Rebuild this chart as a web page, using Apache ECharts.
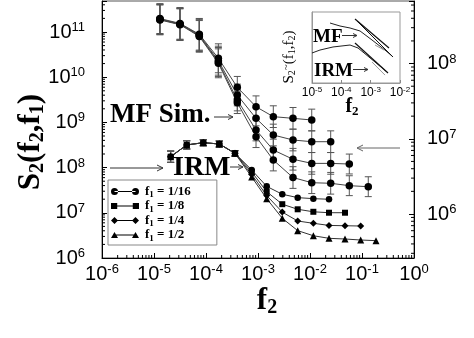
<!DOCTYPE html>
<html><head><meta charset="utf-8">
<script src="https://cdn.jsdelivr.net/npm/echarts@6/dist/echarts.min.js"></script>
<style>html,body{margin:0;padding:0;background:#fff}#c{width:474px;height:338px}</style>
</head><body><div id="c"></div><script>
// ---------- data ----------
const legendNames = ['1/16', '1/8', '1/4', '1/2'];
const xTickExps = [-6, -5, -4, -3, -2, -1, 0];

// MF simulation (left axis)
const mfF2 = [1.30e-5, 3.16e-5, 7.43e-5, 1.73e-4, 4.0e-4, 9.16e-4, 1.97e-3, 4.71e-3, 1.08e-2, 2.50e-2, 5.70e-2, 0.132];
const mf_1_16 = [1.98e11, 1.55e11, 8.9e10, 2.62e10, 5.98e9, 2.22e9, 1.34e9, 1.23e9, 1.13e9];
const mf_1_8  = [1.93e11, 1.51e11, 8.6e10, 2.32e10, 4.04e9, 1.23e9, 5.26e8, 4.08e8, 3.74e8, 3.74e8];
const mf_1_4  = [1.89e11, 1.48e11, 8.3e10, 2.17e10, 3.13e9, 6.79e8, 2.45e8, 1.53e8, 1.24e8, 1.24e8, 1.20e8];
const mf_1_2  = [1.85e11, 1.45e11, 8.0e10, 2.03e10, 2.73e9, 4.83e8, 1.47e8, 6.03e7, 4.63e7, 4.50e7, 3.98e7, 3.78e7];
const mfErrDec = [0.33, 0.35, 0.35, 0.32, 0.24, 0.24, 0.24, 0.24, 0.24, 0.24, 0.22, 0.22];

// IRM (right axis)
const irmF2 = [2.09e-5, 4.26e-5, 8.87e-5, 1.80e-4, 3.61e-4, 7.57e-4, 1.47e-3, 2.93e-3, 5.80e-3, 1.16e-2, 2.32e-2, 4.71e-2, 9.44e-2, 0.186];
const irm_1_16 = [5.78e6, 8.28e6, 8.87e6, 8.53e6, 6.41e6, 3.85e6, 2.33e6, 1.83e6, 1.65e6, 1.60e6, 1.57e6];
const irm_1_8  = [5.78e6, 8.28e6, 8.87e6, 8.53e6, 6.41e6, 3.62e6, 1.98e6, 1.35e6, 1.155e6, 1.07e6, 1.04e6, 1.04e6];
const irm_1_4  = [5.78e6, 8.28e6, 8.87e6, 8.53e6, 6.41e6, 3.35e6, 1.76e6, 1.06e6, 8.07e5, 7.52e5, 7.05e5, 6.98e5, 6.92e5];
const irm_1_2  = [5.78e6, 8.28e6, 8.87e6, 8.53e6, 6.41e6, 3.10e6, 1.60e6, 8.77e5, 6.01e5, 5.14e5, 4.75e5, 4.65e5, 4.51e5, 4.42e5];
const irmErrDec = [0.075, 0.055, 0.04, 0.04, 0.035, 0, 0, 0, 0, 0, 0, 0, 0, 0];

// inset curves (schematic)
const insetMfCurve  = [[4.11e-5, 2399], [9.0e-5, 1626], [1.98e-4, 1256], [4.34e-4, 851], [1.11e-3, 265], [3.08e-3, 72], [5.35e-3, 33]];
const insetMfLine1  = [[2.92e-4, 4036], [4.22e-3, 94]];
const insetMfLine2  = [[3.42e-4, 3112], [5.78e-3, 29]];
const insetMfGray   = [[1.41e-3, 138], [2.85e-3, 72]];
const insetIrmCurve = [[1e-5, 49], [1.87e-5, 72], [5.2e-5, 107], [1.98e-4, 138], [3.70e-4, 94], [9.5e-4, 26], [3.61e-3, 4.2]];
const insetIrmLine  = [[2.92e-4, 179], [3.90e-3, 3.66]];
const insetIrmGray  = [[1.11e-3, 15.2], [3.08e-3, 2.8]];

// ---------- helpers ----------
const SERIF = '"Liberation Serif", "DejaVu Serif", serif';
const SANS = '"Liberation Sans", Arial, sans-serif';
const LEFT_MIN = 1e6, LEFT_MAX = 4.85e11;
const RIGHT_MIN = 2.60e5, RIGHT_MAX = 6.79e8;
const X_MIN = 1e-6, X_MAX = 1;

function pairs(xs, ys) { return ys.map((y, i) => [xs[i], y]); }
function errData(xs, ys, errs) {
  const out = [];
  ys.forEach((y, i) => { if (errs[i] > 0) out.push([xs[i], y / Math.pow(10, errs[i]), y * Math.pow(10, errs[i])]); });
  return out;
}
function powFmt(v) {
  const e = Math.log10(v), r = Math.round(e);
  if (Math.abs(e - r) > 1e-6) return '';
  return '{b|10}{s|' + (r < 0 ? '-' + (-r) : r) + '}';
}
function labelRich(b, s, lh) {
  return {
    b: { fontFamily: SANS, fontSize: b, lineHeight: lh, color: '#000' },
    s: { fontFamily: SANS, fontSize: s, lineHeight: Math.round(s * 0.95), verticalAlign: 'top', color: '#000' }
  };
}
function errRender(params, api) {
  const x = api.value(0), lo = api.value(1), hi = api.value(2);
  const p1 = api.coord([x, lo]), p2 = api.coord([x, hi]);
  const st = { stroke: '#555', lineWidth: 1 };
  const c = 3.5;
  return { type: 'group', children: [
    { type: 'line', shape: { x1: p1[0], y1: p1[1], x2: p2[0], y2: p2[1] }, style: st },
    { type: 'line', shape: { x1: p1[0] - c, y1: p1[1], x2: p1[0] + c, y2: p1[1] }, style: st },
    { type: 'line', shape: { x1: p2[0] - c, y1: p2[1], x2: p2[0] + c, y2: p2[1] }, style: st }
  ] };
}
function minorVals(e0, e1, lo, hi) {
  const a = [];
  for (let d = e0; d <= e1; d++) for (let k = 2; k <= 9; k++) { const v = k * Math.pow(10, d); if (v > lo && v < hi) a.push(v); }
  return a;
}
function tickSeries(vals, axis, yIdx, dx, dy) {
  return {
    type: 'custom', silent: true, z: 3, xAxisIndex: 0, yAxisIndex: yIdx,
    data: vals.map(v => axis === 'x' ? [v, LEFT_MIN] : [dx > 0 ? X_MIN : X_MAX, v]),
    encode: { x: 0, y: 1 },
    renderItem: (params, api) => {
      const p = api.coord([api.value(0), api.value(1)]);
      return { type: 'line', shape: { x1: p[0], y1: p[1], x2: p[0] + dx, y2: p[1] + dy }, style: { stroke: '#000', lineWidth: 1 } };
    }
  };
}
function arrow(x1, y1, x2, y2, color, head) {
  const dx = x2 - x1, dy = y2 - y1, L = Math.hypot(dx, dy), ux = dx / L, uy = dy / L;
  const hx = x2 - ux * head, hy = y2 - uy * head;
  const px = -uy * head * 0.5, py = ux * head * 0.5;
  return { type: 'group', z: 10, children: [
    { type: 'line', shape: { x1, y1, x2, y2 }, style: { stroke: color, lineWidth: 1 } },
    { type: 'polyline', shape: { points: [[hx + px, hy + py], [x2, y2], [hx - px, hy - py]] }, style: { stroke: color, lineWidth: 1, fill: null } }
  ] };
}

const icons = {
  '1/16': 'path://M0,4a3.5,3.5 0 1,0 7,0a3.5,3.5 0 1,0 -7,0zM21,4a3.5,3.5 0 1,0 7,0a3.5,3.5 0 1,0 -7,0zM3.5,3.6h21v0.8h-21z',
  '1/8': 'path://M0.5,1h6v6h-6zM21.5,1h6v6h-6zM3.5,3.6h21v0.8h-21z',
  '1/4': 'path://M0,4L3.5,0.5L7,4L3.5,7.5zM21,4L24.5,0.5L28,4L24.5,7.5zM3.5,3.6h21v0.8h-21z',
  '1/2': 'path://M0,7L3.5,1L7,7zM21,7L24.5,1L28,7zM3.5,3.6h21v0.8h-21z'
};
const irmSym = { '1/16': ['circle', 6.5], '1/8': ['rect', 6], '1/4': ['diamond', 7], '1/2': ['triangle', 7] };

const mfSets = [mf_1_16, mf_1_8, mf_1_4, mf_1_2];
const irmSets = [irm_1_16, irm_1_8, irm_1_4, irm_1_2];

const series = [];
mfSets.forEach((ys, i) => {
  series.push({ type: 'custom', name: 'mfErr' + i, z: 1, silent: true, xAxisIndex: 0, yAxisIndex: 0,
    data: errData(mfF2, ys, mfErrDec), encode: { x: 0, y: [1, 2] }, renderItem: errRender });
  series.push({ type: 'line', name: 'MF ' + legendNames[i], xAxisIndex: 0, yAxisIndex: 0, z: 2,
    data: pairs(mfF2, ys), symbol: 'circle', symbolSize: 7.5,
    lineStyle: { color: '#444', width: 1 }, itemStyle: { color: '#000' } });
});
[3, 2, 0, 1].forEach(i => {
  const ys = irmSets[i], nm = legendNames[i];
  series.push({ type: 'custom', name: 'irmErr' + i, z: 1, silent: true, xAxisIndex: 0, yAxisIndex: 1,
    data: errData(irmF2, ys, irmErrDec), encode: { x: 0, y: [1, 2] }, renderItem: errRender });
  series.push({ type: 'line', name: nm, xAxisIndex: 0, yAxisIndex: 1, z: 2,
    data: pairs(irmF2, ys), symbol: irmSym[nm][0], symbolSize: irmSym[nm][1],
    lineStyle: { color: '#333', width: 1 }, itemStyle: { color: '#000' } });
});
// minor ticks (log-spaced)
series.push(tickSeries(minorVals(-6, -1, X_MIN, X_MAX), 'x', 0, 0, -3));
series.push(tickSeries(minorVals(6, 11, LEFT_MIN, LEFT_MAX), 'y', 0, 3, 0));
series.push(tickSeries(minorVals(5, 8, RIGHT_MIN, RIGHT_MAX), 'y', 1, -3, 0));
// inset
const insetStyle = (c, w) => ({ type: 'line', xAxisIndex: 1, yAxisIndex: 2, symbol: 'none', silent: true,
  lineStyle: { color: c, width: w } });
[[insetMfCurve, '#222', 1], [insetMfLine1, '#111', 1.2], [insetMfLine2, '#111', 1], [insetMfGray, '#999', 1],
 [insetIrmCurve, '#222', 1], [insetIrmLine, '#111', 1.2], [insetIrmGray, '#999', 1]].forEach(([d, c, w]) => {
  series.push(Object.assign(insetStyle(c, w), { data: d }));
});

const legendRich = {
  b: { fontFamily: SERIF, fontWeight: 'bold', fontSize: 13, lineHeight: 16, color: '#000' },
  s: { fontFamily: SERIF, fontWeight: 'bold', fontSize: 9, lineHeight: 10, verticalAlign: 'bottom', color: '#000' }
};

const option = {
  animation: false,
  backgroundColor: '#fff',
  grid: [
    { left: 102, right: 60, top: 1, bottom: 80, show: true, borderColor: '#555', borderWidth: 1 },
    { left: 312, top: 12, width: 88, height: 71, show: true, borderColor: '#999', borderWidth: 1, backgroundColor: '#fff' }
  ],
  xAxis: [
    { type: 'log', gridIndex: 0, min: X_MIN, max: X_MAX, logBase: 10,
      axisLine: { show: true, lineStyle: { color: '#000', width: 1 } },
      axisTick: { show: true, inside: true, length: 5, lineStyle: { color: '#000' } },
      minorTick: { show: false }, splitLine: { show: false },
      axisLabel: { margin: 5, formatter: powFmt, rich: labelRich(20, 13, 22) } },
    { type: 'log', gridIndex: 1, min: 1e-5, max: 1e-2, logBase: 10,
      axisLine: { show: true, lineStyle: { color: '#999', width: 1 } },
      axisTick: { show: true, inside: true, length: 3, lineStyle: { color: '#888' } },
      splitLine: { show: false },
      axisLabel: { margin: 3, formatter: powFmt, rich: labelRich(12, 8, 13) } }
  ],
  yAxis: [
    { type: 'log', gridIndex: 0, position: 'left', min: LEFT_MIN, max: LEFT_MAX, logBase: 10,
      axisLine: { show: true, lineStyle: { color: '#000', width: 1 } },
      axisTick: { show: true, inside: true, length: 5, lineStyle: { color: '#000' } },
      splitLine: { show: false },
      axisLabel: { margin: 17, formatter: powFmt, rich: labelRich(20, 13, 22) } },
    { type: 'log', gridIndex: 0, position: 'right', min: RIGHT_MIN, max: RIGHT_MAX, logBase: 10,
      axisLine: { show: true, lineStyle: { color: '#000', width: 1 } },
      axisTick: { show: true, inside: true, length: 5, lineStyle: { color: '#000' } },
      splitLine: { show: false },
      axisLabel: { margin: 13, formatter: powFmt, rich: labelRich(20, 13, 22) } },
    { type: 'log', gridIndex: 1, min: 1, max: 1e4, logBase: 10,
      axisLine: { show: true, lineStyle: { color: '#999' } }, axisTick: { show: false },
      axisLabel: { show: false }, splitLine: { show: false } }
  ],
  legend: {
    orient: 'vertical', left: 108, top: 180, selectedMode: false,
    itemWidth: 28, itemHeight: 8, itemGap: 0, padding: [5, 26, 2, 3],
    borderColor: '#888', borderWidth: 1, backgroundColor: '#fff',
    data: legendNames.map(n => ({ name: n, icon: icons[n] })),
    formatter: n => '{b|f}{s|1}{b| = ' + n + '}',
    textStyle: { padding: [0, 0, 0, 1], rich: legendRich }
  },
  series: series,
  graphic: [
    { type: 'text', z: 10, x: 110, y: 115, style: { text: 'MF Sim.', font: 'bold 27px ' + SERIF, fill: '#000', textVerticalAlign: 'middle' } },
    arrow(214, 117, 233, 117, '#333', 5),
    { type: 'text', z: 10, x: 173, y: 168, style: { text: 'IRM', font: 'bold 28px ' + SERIF, fill: '#000', textVerticalAlign: 'middle' } },
    arrow(110, 168, 163, 168, '#333', 6),
    arrow(230, 167, 243, 167, '#333', 5),
    arrow(400, 148, 357, 148, '#666', 6),
    { type: 'text', z: 10, x: 31, y: 142, rotation: Math.PI / 2, style: {
      text: '{b|S}{s|2}{b|(f}{s|2}{b|,f}{s|1}{b|)}', textAlign: 'center', textVerticalAlign: 'middle',
      rich: { b: { fontFamily: SERIF, fontWeight: 'bold', fontSize: 31, lineHeight: 34, fill: '#000' },
              s: { fontFamily: SERIF, fontWeight: 'bold', fontSize: 20, lineHeight: 20, verticalAlign: 'bottom', fill: '#000' } } } },
    { type: 'text', z: 10, x: 267, y: 301, style: {
      text: '{b|f}{s|2}', textAlign: 'center', textVerticalAlign: 'middle',
      rich: { b: { fontFamily: SERIF, fontWeight: 'bold', fontSize: 31, lineHeight: 34, fill: '#000' },
              s: { fontFamily: SERIF, fontWeight: 'bold', fontSize: 20, lineHeight: 20, verticalAlign: 'bottom', fill: '#000' } } } },
    // inset annotations
    { type: 'text', z: 10, x: 313, y: 37, style: { text: 'MF', font: 'bold 19px ' + SERIF, fill: '#000', textVerticalAlign: 'middle' } },
    arrow(342, 35.5, 357, 35.5, '#333', 4),
    { type: 'text', z: 10, x: 314, y: 71, style: { text: 'IRM', font: 'bold 19px ' + SERIF, fill: '#000', textVerticalAlign: 'middle' } },
    arrow(353, 69.5, 368, 69.5, '#333', 4),
    { type: 'text', z: 10, x: 352, y: 107, style: {
      text: '{b|f}{s|2}', textAlign: 'center', textVerticalAlign: 'middle',
      rich: { b: { fontFamily: SERIF, fontWeight: 'bold', fontSize: 20, lineHeight: 22, fill: '#000' },
              s: { fontFamily: SERIF, fontWeight: 'bold', fontSize: 13, lineHeight: 13, verticalAlign: 'bottom', fill: '#000' } } } },
    { type: 'text', z: 10, x: 289, y: 57, rotation: Math.PI / 2, style: {
      text: '{r|S}{ss|2}{sp|~}{r|(f}{ss|1}{r|,f}{ss|2}{r|)}', textAlign: 'center', textVerticalAlign: 'middle',
      rich: { r: { fontFamily: SERIF, fontSize: 15, lineHeight: 17, fill: '#000' },
              ss: { fontFamily: SERIF, fontSize: 10, lineHeight: 10, verticalAlign: 'bottom', fill: '#000' },
              sp: { fontFamily: SERIF, fontSize: 11, lineHeight: 10, verticalAlign: 'top', fill: '#000' } } } }
  ]
};
const chart = echarts.init(document.getElementById('c'), null, { renderer: 'canvas' });
chart.setOption(option);
</script></body></html>
